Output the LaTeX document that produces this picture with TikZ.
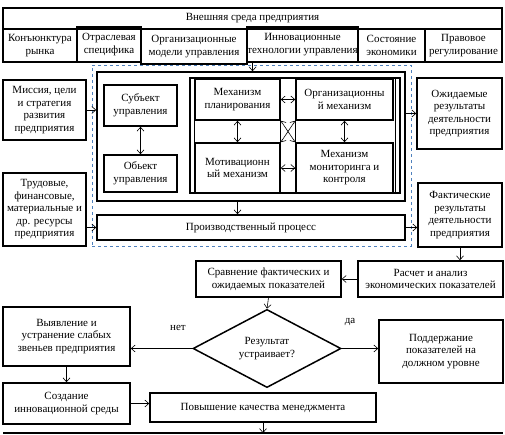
\documentclass[tikz,border=0pt]{standalone}
\usepackage{fontspec}
\setmainfont{Liberation Serif}
\usepackage{tikz}
\usetikzlibrary{shapes.geometric, arrows.meta, positioning}
\definecolor{dashblue}{RGB}{79,129,189}

\begin{document}
\begin{tikzpicture}[x=1pt, y=-1pt,
    font=\fontsize{11}{12.5}\selectfont,
    box/.style={rectangle, draw, line width=1.5pt, align=center, inner sep=1pt},
    decision/.style={diamond, draw, line width=1.5pt, align=center, inner sep=0pt, minimum width=148pt, minimum height=71pt},
    arrow/.style={-{Straight Barb[length=4pt, width=7pt]}, line width=0.6pt},
    biarrow/.style={{Straight Barb[length=4pt, width=7pt]}-{Straight Barb[length=4pt, width=7pt]}, line width=0.6pt}
]
\useasboundingbox (0,0) rectangle (505,435);
\node[box, minimum width=499pt, minimum height=21pt] (ext) at (252.5,18.5) {Внешняя среда предприятия};
\node[box, minimum width=74pt, minimum height=33pt] (konj) at (40,45.5) {Конъюнктура\\рынка};
\node[box, minimum width=64pt, minimum height=35pt] (otrasl) at (109,44.5) {Отраслевая\\специфика};
\node[box, minimum width=106pt, minimum height=35pt] (orgmod) at (194,46.5) {Организационные\\модели управления};
\node[box, minimum width=111pt, minimum height=35pt] (innov) at (302.5,44.5) {Инновационные\\технологии управления};
\node[box, minimum width=67pt, minimum height=33pt] (sost) at (391.5,45.5) {Состояние\\экономики};
\node[box, minimum width=77pt, minimum height=33pt] (pravo) at (463.5,45.5) {Правовое\\регулирование};

\node[draw=dashblue, dashed, line width=0.6pt, minimum width=319pt, minimum height=181pt] (contour) at (251.5,155.5) {};
\node[box, minimum width=308pt, minimum height=129pt] (upr) at (251,136.5) {};
\node[box, minimum width=73pt, minimum height=41pt] (subj) at (140.5,105.5) {Субъект\\управления};
\node[box, minimum width=73pt, minimum height=37pt] (obj) at (140.5,173.5) {Обьект\\управления};
\node[box, minimum width=210pt, minimum height=115pt] (mech) at (295,135.5) {};
\node[box, minimum width=85pt, minimum height=41pt] (plan) at (237.5,99.5) {Механизм\\планирования};
\node[box, minimum width=97pt, minimum height=41pt] (org) at (344.5,99.5) {Организационны\\й механизм};
\node[box, minimum width=85pt, minimum height=50pt] (motiv) at (237.5,168) {Мотивационн\\ый механизм};
\node[box, minimum width=97pt, minimum height=50pt] (monit) at (344.5,168) {Механизм\\мониторинга и\\контроля};
\node[box, minimum width=308pt, minimum height=25pt] (prod) at (251,227.5) {Производственный процесс};

\node[box, minimum width=83pt, minimum height=60pt] (mission) at (44.5,110) {Миссия, цели\\и стратегия\\развития\\предприятия};
\node[box, minimum width=83pt, minimum height=73pt] (res) at (44.5,209.5) {Трудовые,\\финансовые,\\материальные и\\др. ресурсы\\предприятия};
\node[box, minimum width=85pt, minimum height=71pt] (expect) at (459.5,113.5) {Ожидаемые\\результаты\\деятельности\\предприятия};
\node[box, minimum width=84pt, minimum height=64pt] (actual) at (460,215) {Фактические\\результаты\\деятельности\\предприятия};

\node[box, minimum width=145pt, minimum height=36pt] (calc) at (430.5,279) {Расчет и анализ\\экономических показателей};
\node[box, minimum width=145pt, minimum height=36pt] (compare) at (268.5,279) {Сравнение фактических и\\ожидаемых показателей};
\node[decision] (dec) at (267,348.5) {Результат\\устраивает?};
\node[box, minimum width=127pt, minimum height=59pt] (reveal) at (66.5,336.5) {Выявление и\\устранение слабых\\звеньев предприятия};
\node[box, minimum width=124pt, minimum height=63pt] (support) at (441,351.5) {Поддержание\\показателей на\\должном уровне};
\node[box, minimum width=127pt, minimum height=41pt] (create) at (66.5,403.5) {Создание\\инновационной среды};
\node[box, minimum width=226pt, minimum height=29pt] (improve) at (263,407.5) {Повышение качества менеджмента};
\node (lblno) at (178,328) {нет};
\node (lblyes) at (350,322) {да};
\coordinate (bl) at (3,433);
\coordinate (br) at (503,433);

\draw[line width=0.6pt] ([xshift=5pt]mech.north west) -- ([xshift=5pt]mech.south west);
\draw[line width=0.6pt] ([xshift=-5pt]mech.north east) -- ([xshift=-5pt]mech.south east);
\draw[line width=0.6pt] (plan.south east) -- (motiv.north east);
\draw[line width=0.6pt] (org.south west) -- (monit.north west);
\draw[line width=1.5pt] (bl) -- (br);

\draw[arrow] ([xshift=7pt]innov.south west) -- ([xshift=7pt]innov.south west |- upr.north);
\draw[arrow] (mission.east) -- (mission.east -| upr.west);
\draw[arrow] (prod.west -| res.east) -- (prod.west);
\draw[arrow] (expect.west -| upr.east) -- (expect.west);
\draw[arrow] (prod.east) -- (prod.east -| actual.west);
\draw[arrow] (plan |- upr.south) -- (plan |- prod.north);
\draw[biarrow] (subj) -- (obj);
\draw[biarrow] (plan) -- (motiv);
\draw[biarrow] (org) -- (monit);
\draw[biarrow] (plan) -- (org);
\draw[biarrow] (motiv) -- (monit);
\draw[biarrow] (plan.south east) -- (monit.north west);
\draw[biarrow] (org.south west) -- (motiv.north east);
\draw[arrow] (actual.south) -- (actual.south |- calc.north);
\draw[arrow] (calc) -- (compare);
\draw[arrow] (compare.south) -- (dec.north);
\draw[arrow] (dec.west) -- (dec.west -| reveal.east);
\draw[arrow] (dec.east) -- (dec.east -| support.west);
\draw[arrow] (reveal) -- (create);
\draw[arrow] (create.east) -- (create.east -| improve.west);
\draw[arrow] (improve.south) -- (improve.south |- bl);
\end{tikzpicture}
\end{document}
